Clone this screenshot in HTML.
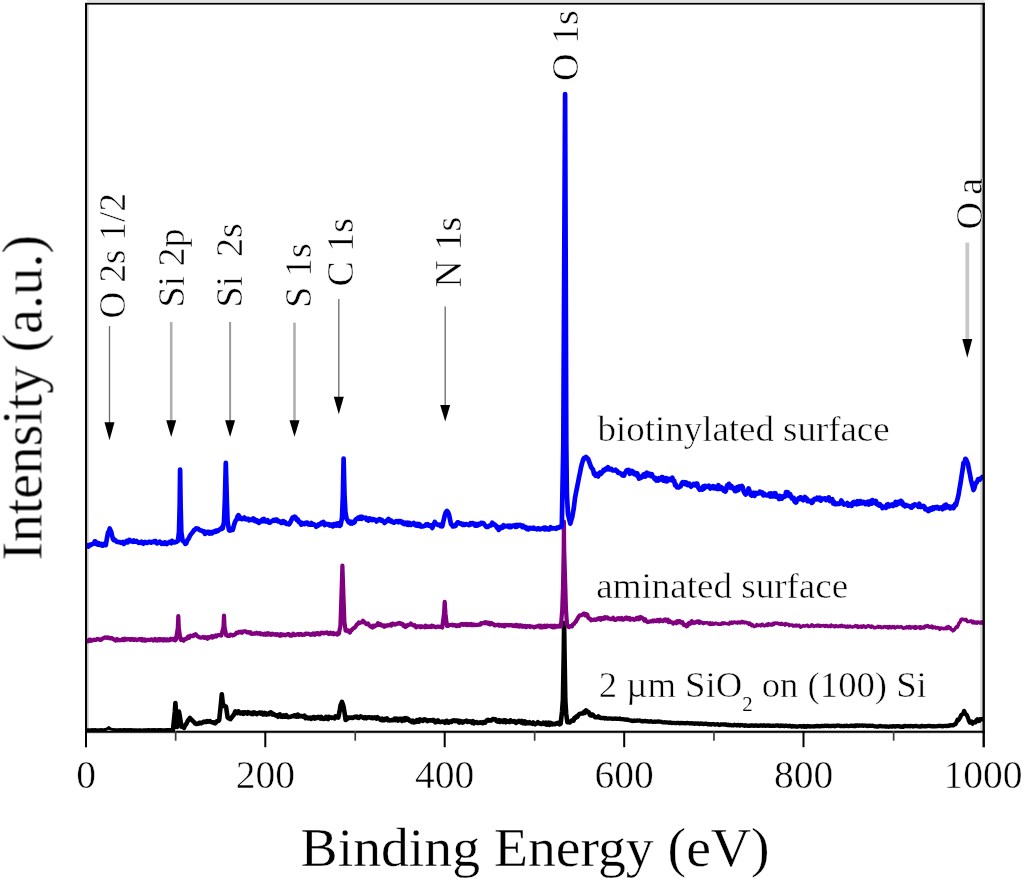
<!DOCTYPE html>
<html><head><meta charset="utf-8"><title>XPS survey spectra</title>
<style>html,body{margin:0;padding:0;background:#fff;}body{width:1024px;height:879px;overflow:hidden;}svg{display:block;}</style>
</head><body>
<svg width="1024" height="879" viewBox="0 0 1024 879">
<defs><filter id="soft" x="-2%" y="-2%" width="104%" height="104%"><feGaussianBlur stdDeviation="0.45"/></filter></defs>
<rect x="0" y="0" width="1024" height="879" fill="#ffffff"/>
<g filter="url(#soft)">
<rect x="87" y="0" width="897.6" height="3" fill="#e3e3e3"/>
<rect x="87" y="4.5" width="1.6" height="726" fill="#c4c4c4"/>
<rect x="980.2" y="4.5" width="2.3" height="726" fill="#d6d6d6"/>
<rect x="87" y="732.8" width="896" height="1.2" fill="#e2e2e2"/>
<clipPath id="plot"><rect x="86" y="4" width="897.6" height="729"/></clipPath>
<g fill="none" stroke-linejoin="round" stroke-linecap="round" clip-path="url(#plot)">
<path d="M86.5,729.8 L87.4,729.7 L88.3,729.8 L89.3,729.7 L90.2,729.8 L91.1,729.8 L92.0,729.6 L93.0,729.5 L93.9,729.9 L94.8,729.6 L95.8,729.6 L96.7,729.9 L97.6,729.7 L98.5,729.8 L99.5,729.7 L100.4,729.7 L101.3,729.5 L102.2,729.7 L103.2,729.8 L104.1,729.6 L105.0,729.7 L106.3,729.3 L107.6,728.6 L108.8,727.5 L110.0,728.8 L111.2,729.1 L112.5,729.4 L113.4,729.7 L114.3,729.6 L115.2,729.7 L116.1,729.8 L117.0,729.7 L118.0,729.8 L118.9,729.6 L119.8,729.7 L120.7,729.6 L121.6,729.8 L122.5,729.8 L123.4,729.5 L124.3,729.5 L125.2,729.5 L126.1,729.8 L127.0,729.6 L128.0,729.7 L128.9,729.6 L129.8,729.7 L130.7,729.6 L131.6,729.6 L132.5,729.7 L133.4,729.7 L134.3,729.8 L135.2,729.7 L136.1,729.9 L137.0,729.8 L138.0,729.9 L138.9,729.8 L139.8,729.6 L140.7,729.8 L141.6,729.9 L142.5,729.9 L143.4,729.7 L144.3,729.8 L145.3,729.6 L146.2,729.8 L147.1,729.7 L148.0,729.6 L149.0,729.5 L149.9,729.8 L150.8,729.9 L151.7,729.5 L152.7,729.8 L153.6,729.6 L154.5,729.5 L155.4,729.6 L156.4,729.8 L157.3,729.8 L158.2,729.5 L159.1,729.7 L160.1,729.5 L161.0,729.7 L161.9,729.6 L162.8,729.8 L163.8,729.8 L164.7,729.6 L165.6,729.8 L166.5,729.5 L167.5,729.4 L168.4,729.7 L169.3,729.4 L170.2,729.5 L171.2,729.6 L172.1,729.7 L173.0,729.6" stroke="#000000" stroke-width="3.0"/>
<path d="M173.0,729.6 L173.9,720.8 L174.8,712.0 L175.4,703.0 L176.0,712.0 L177.0,727.0 L178.2,715.0 L178.9,711.5 L179.8,716.0 L181.4,726.6 L182.7,726.7 L184.0,727.9 L185.0,725.4 L186.0,724.4 L187.0,722.5 L188.0,720.5 L189.0,719.3 L190.0,718.0 L191.0,719.2 L192.0,720.1 L193.0,721.1 L194.1,722.1 L195.2,723.5 L196.3,724.0 L197.2,723.7 L198.2,723.8 L199.2,722.9 L200.1,722.8 L201.1,723.3 L202.0,722.5 L203.0,722.4 L204.0,721.6 L205.0,721.9 L206.0,721.9 L207.0,721.1 L208.0,721.6 L209.0,721.5 L209.9,721.0 L210.8,722.0 L211.7,722.0 L212.6,722.5 L213.5,722.4 L214.4,723.1 L215.3,723.4 L216.3,721.8 L217.2,721.0 L218.2,721.0 L219.2,720.0 L220.1,711.5 L221.0,703.0 L221.8,694.3 L222.8,703.6 L224.4,706.2 L226.0,706.5 L227.6,717.4 L228.5,718.2 L229.4,718.6 L230.3,719.2 L231.6,717.6 L232.8,716.0 L234.1,714.3 L235.3,711.4 L236.3,711.8 L237.4,713.0 L238.4,711.3 L239.4,712.9 L240.5,713.5 L241.5,712.6 L242.5,712.4 L243.4,713.9 L244.4,712.4 L245.3,712.3 L246.3,712.9 L247.3,713.6 L248.2,712.1 L249.2,712.7 L250.2,712.7 L251.1,713.9 L252.1,712.9 L253.0,714.0 L254.0,712.3 L255.0,712.7 L255.9,713.6 L256.9,714.2 L257.8,713.2 L258.8,712.7 L259.8,712.5 L260.7,713.6 L261.7,712.8 L262.7,714.4 L263.6,714.5 L264.6,712.9 L265.5,713.2 L266.5,714.6 L267.5,714.0 L268.5,714.3 L269.5,713.0 L270.5,712.3 L271.5,712.6 L272.4,714.5 L273.4,713.8 L274.4,714.6 L275.3,715.4 L276.2,715.4 L277.1,715.4 L278.0,716.7 L278.9,714.7 L279.8,714.4 L280.8,716.7 L281.7,716.5 L282.6,716.8 L283.5,715.4 L284.4,716.7 L285.3,716.7 L286.3,715.1 L287.4,716.6 L288.4,717.1 L289.4,716.9 L290.5,716.7 L291.5,716.4 L292.4,716.3 L293.3,715.9 L294.2,715.3 L295.1,716.4 L296.0,715.5 L297.0,716.6 L297.9,714.6 L298.8,716.5 L299.7,715.8 L300.6,716.2 L301.5,716.0 L302.5,716.6 L303.5,716.4 L304.5,715.6 L305.5,718.1 L306.5,717.3 L307.4,717.5 L308.3,718.4 L309.2,718.0 L310.1,717.7 L311.0,718.9 L312.0,718.1 L312.9,717.3 L313.8,717.0 L314.7,718.5 L315.6,717.5 L316.5,718.2 L317.5,717.2 L318.4,716.8 L319.4,717.7 L320.3,718.5 L321.3,716.9 L322.2,718.5 L323.2,718.9 L324.2,718.7 L325.1,718.8 L326.1,716.8 L327.0,718.4 L328.0,719.0 L328.9,716.9 L329.9,717.4 L330.8,717.4 L331.7,717.9 L332.7,717.6 L333.6,717.7 L334.6,718.4 L335.5,716.4 L336.4,716.5 L337.4,716.6 L338.3,717.5 L339.5,711.8 L340.6,705.1 L342.0,701.9 L343.4,706.0 L344.5,712.4 L345.6,720.0 L346.5,719.5 L347.5,717.4 L348.4,718.3 L349.3,717.7 L350.2,717.5 L351.1,717.5 L352.1,718.0 L353.0,717.7 L353.9,717.2 L354.9,716.7 L355.8,717.1 L356.8,716.6 L357.7,717.6 L358.6,718.0 L359.6,717.2 L360.5,716.4 L361.5,716.7 L362.4,717.2 L363.3,717.8 L364.3,718.2 L365.2,717.2 L366.2,718.3 L367.1,717.8 L368.0,717.3 L369.0,717.2 L369.9,717.5 L370.9,718.0 L371.8,717.3 L372.8,718.1 L373.7,717.7 L374.7,717.3 L375.6,718.2 L376.6,718.7 L377.6,717.3 L378.5,718.3 L379.5,718.5 L380.5,719.8 L381.4,720.1 L382.4,718.8 L383.3,720.2 L384.3,720.1 L385.2,718.8 L386.2,719.4 L387.1,718.5 L388.0,720.3 L389.0,720.0 L389.9,720.5 L390.8,720.3 L391.8,720.1 L392.7,720.3 L393.6,719.9 L394.6,718.7 L395.5,720.0 L396.5,718.6 L397.4,718.9 L398.3,720.5 L399.3,718.7 L400.2,718.9 L401.1,718.9 L402.1,720.9 L403.0,719.2 L404.0,718.5 L405.0,720.3 L406.0,718.2 L407.0,719.7 L408.0,718.9 L409.0,720.0 L410.0,721.0 L411.0,720.7 L412.0,722.0 L413.0,720.7 L414.0,722.4 L415.0,721.5 L415.9,721.8 L416.9,720.1 L417.9,721.5 L418.9,721.7 L419.8,719.3 L420.8,719.8 L421.8,720.2 L422.8,720.9 L423.7,719.5 L424.7,719.4 L425.6,719.7 L426.6,720.7 L427.6,721.1 L428.5,720.3 L429.5,720.3 L430.5,720.4 L431.4,720.4 L432.4,720.6 L433.3,719.9 L434.3,721.0 L435.3,722.3 L436.2,720.9 L437.2,721.8 L438.1,720.4 L439.1,721.8 L440.1,722.1 L441.0,721.9 L442.0,721.6 L443.0,721.6 L443.9,722.0 L444.9,722.8 L445.8,721.0 L446.8,720.9 L447.8,722.4 L448.7,722.7 L449.7,721.6 L450.7,721.4 L451.6,721.9 L452.6,720.5 L453.6,720.6 L454.5,720.3 L455.5,721.2 L456.4,720.6 L457.3,720.5 L458.2,721.7 L459.1,722.5 L460.0,720.9 L460.9,722.1 L461.8,721.4 L462.7,722.6 L463.6,722.0 L464.5,721.3 L465.4,721.2 L466.4,720.7 L467.3,721.9 L468.3,721.7 L469.2,721.2 L470.1,721.7 L471.1,721.6 L472.0,722.7 L473.0,721.2 L473.9,723.3 L474.8,722.1 L475.8,722.4 L476.7,722.1 L477.7,723.0 L478.6,723.0 L479.5,722.4 L480.5,722.2 L481.4,722.8 L482.4,723.2 L483.3,722.1 L484.2,722.5 L485.2,722.7 L486.1,721.1 L487.1,720.2 L488.0,719.8 L488.9,720.7 L489.9,720.2 L490.8,720.5 L491.7,720.4 L492.7,719.1 L493.6,719.1 L494.5,719.4 L495.5,719.4 L496.4,720.9 L497.3,721.4 L498.3,721.7 L499.2,720.2 L500.1,721.9 L501.1,720.7 L502.0,721.1 L502.9,721.9 L503.9,720.3 L504.8,720.4 L505.8,722.3 L506.7,720.9 L507.6,721.1 L508.6,721.7 L509.5,722.0 L510.5,720.3 L511.4,721.2 L512.3,721.5 L513.3,721.6 L514.2,721.0 L515.2,721.9 L516.1,722.9 L517.0,721.5 L518.0,721.9 L518.9,720.9 L519.9,721.3 L520.8,722.3 L521.8,721.0 L522.7,723.1 L523.7,723.2 L524.6,721.3 L525.6,723.5 L526.6,722.1 L527.5,723.2 L528.5,723.3 L529.5,722.2 L530.4,723.3 L531.4,723.3 L532.3,723.8 L533.3,722.5 L534.2,723.8 L535.1,724.3 L536.0,723.6 L536.9,723.3 L537.8,722.3 L538.7,723.3 L539.6,723.0 L540.5,724.0 L541.4,723.9 L542.3,723.7 L543.2,722.7 L544.1,723.9 L545.0,723.9 L545.9,722.8 L546.8,724.7 L547.7,724.1 L548.6,722.8 L549.5,724.9 L550.4,722.9 L551.4,723.4 L552.3,724.4 L553.2,724.0 L554.1,723.9 L555.0,724.2 L556.0,723.7 L556.9,723.3 L557.8,723.0 L558.8,722.7 L559.7,724.3 L560.6,723.8 L562.0,712.0 L562.9,700.0 L563.8,650.0 L564.1,623.0 L564.5,650.0 L565.3,700.0 L566.2,714.0 L567.4,722.1 L568.5,721.7 L569.7,722.4 L570.8,721.5 L571.7,720.5 L572.6,720.1 L573.6,720.5 L574.5,717.7 L575.5,717.9 L576.5,716.4 L577.5,716.8 L578.5,714.9 L579.5,714.0 L581.0,713.6 L582.0,713.4 L583.0,713.5 L584.0,711.9 L585.0,712.7 L586.0,710.3 L587.0,711.5 L588.0,711.8 L589.0,712.6 L590.0,715.0 L591.0,715.6 L591.9,714.5 L592.8,714.8 L593.7,715.6 L594.6,716.7 L595.5,717.2 L596.5,717.3 L597.4,717.2 L598.3,716.4 L599.2,717.3 L600.1,717.6" stroke="#000000" stroke-width="4.6"/>
<path d="M600.1,717.6 L601.0,718.1 L601.9,718.2 L602.9,717.9 L603.8,718.0 L604.8,718.5 L605.7,717.9 L606.6,718.6 L607.6,718.7 L608.5,718.7 L609.5,718.3 L610.4,718.5 L611.3,718.6 L612.3,718.6 L613.2,718.9 L614.2,718.7 L615.1,718.5 L616.0,718.9 L617.0,718.7 L617.9,718.8 L618.9,718.9 L619.8,718.4 L620.8,719.2 L621.7,719.2 L622.7,719.2 L623.6,719.4 L624.6,719.5 L625.6,719.4 L626.5,719.8 L627.5,719.5 L628.5,720.0 L629.4,720.3 L630.4,720.3 L631.3,720.5 L632.3,721.0 L633.2,720.9 L634.2,720.4 L635.1,720.9 L636.0,720.8 L637.0,720.4 L637.9,720.7 L638.8,720.6 L639.8,720.5 L640.7,720.9 L641.6,721.3 L642.6,720.8 L643.5,721.3 L644.5,721.2 L645.4,720.8 L646.3,721.4 L647.3,721.2 L648.2,721.5 L649.1,721.4 L650.1,721.5 L651.0,721.2 L651.9,721.6 L652.9,721.8 L653.8,721.8 L654.7,721.5 L655.6,721.8 L656.6,721.7 L657.5,721.5 L658.4,721.5 L659.3,721.6 L660.3,721.7 L661.2,721.8 L662.1,722.1 L663.0,722.3 L664.0,722.3 L664.9,722.2 L665.8,722.5 L666.7,722.3 L667.7,722.5 L668.6,722.8 L669.5,722.6 L670.4,722.4 L671.4,723.1 L672.3,723.0 L673.2,722.8 L674.1,722.9 L675.1,723.1 L676.0,723.2 L676.9,722.9 L677.8,722.8 L678.8,722.9 L679.7,723.4 L680.6,722.9 L681.5,723.2 L682.5,723.0 L683.4,723.1 L684.3,723.1 L685.2,723.3 L686.2,723.1 L687.1,723.0 L688.0,723.1 L688.9,723.2 L689.8,723.5 L690.8,723.2 L691.7,723.2 L692.6,723.5 L693.5,723.5 L694.5,723.8 L695.4,723.3 L696.3,723.6 L697.2,723.6 L698.2,723.4 L699.1,724.1 L700.0,723.6 L700.9,723.5 L701.9,723.9 L702.8,723.6 L703.7,724.0 L704.6,723.9 L705.6,723.7 L706.5,723.7 L707.4,724.3 L708.3,724.0 L709.3,724.4 L710.2,724.2 L711.1,724.6 L712.0,724.1 L713.0,724.1 L713.9,724.2 L714.8,724.6 L715.7,724.5 L716.7,724.3 L717.6,724.2 L718.5,724.7 L719.4,725.0 L720.4,724.7 L721.3,724.3 L722.2,724.3 L723.1,724.4 L724.1,724.5 L725.0,724.4 L725.9,724.5 L726.9,725.0 L727.8,725.2 L728.7,724.7 L729.6,725.3 L730.6,725.0 L731.5,725.3 L732.4,725.4 L733.3,725.4 L734.3,724.7 L735.2,725.0 L736.1,725.2 L737.0,725.5 L738.0,724.9 L738.9,725.1 L739.8,725.6 L740.7,725.0 L741.7,725.2 L742.6,725.2 L743.5,725.5 L744.4,725.8 L745.4,725.2 L746.3,725.7 L747.2,725.7 L748.1,725.8 L749.1,725.6 L750.0,725.9 L750.9,725.5 L751.9,725.5 L752.8,725.4 L753.7,725.8 L754.6,725.6 L755.6,725.4 L756.5,725.3 L757.4,725.8 L758.3,725.7 L759.3,725.8 L760.2,725.5 L761.1,725.6 L762.0,725.3 L763.0,725.8 L763.9,725.2 L764.8,725.6 L765.7,725.8 L766.7,725.7 L767.6,725.3 L768.5,725.4 L769.4,725.9 L770.4,725.7 L771.3,725.9 L772.2,725.9 L773.1,725.6 L774.1,725.9 L775.0,725.8 L775.9,725.5 L776.9,725.6 L777.8,725.4 L778.7,725.7 L779.6,726.1 L780.6,725.5 L781.5,725.9 L782.4,725.6 L783.3,725.6 L784.3,726.1 L785.2,725.8 L786.1,725.6 L787.0,725.8 L788.0,726.2 L788.9,726.2 L789.8,725.7 L790.7,726.0 L791.7,726.6 L792.6,726.0 L793.5,726.3 L794.4,726.2 L795.4,726.6 L796.3,726.5 L797.2,726.6 L798.1,726.5 L799.1,726.2 L800.0,726.2 L800.9,726.1 L801.8,726.7 L802.8,726.1 L803.7,726.0 L804.6,726.8 L805.5,726.1 L806.5,726.7 L807.4,726.0 L808.3,726.3 L809.2,726.1 L810.2,726.6 L811.1,726.4 L812.0,726.4 L812.9,726.4 L813.8,726.5 L814.8,726.1 L815.7,726.3 L816.6,726.1 L817.5,725.8 L818.5,726.4 L819.4,726.2 L820.3,726.3 L821.2,725.8 L822.2,726.1 L823.1,726.0 L824.0,726.2 L824.9,725.7 L825.8,725.9 L826.7,726.0 L827.7,725.6 L828.6,726.0 L829.5,726.1 L830.4,725.9 L831.3,726.0 L832.2,726.0 L833.1,725.7 L834.1,725.8 L835.0,726.3 L835.9,725.7 L836.8,725.8 L837.7,725.5 L838.6,725.6 L839.5,725.6 L840.5,726.2 L841.4,726.0 L842.3,726.1 L843.2,726.2 L844.1,725.9 L845.0,726.1 L846.0,725.8 L846.9,725.7 L847.8,726.1 L848.7,726.1 L849.6,726.1 L850.5,725.7 L851.4,725.9 L852.4,725.6 L853.3,726.1 L854.2,726.0 L855.1,725.5 L856.0,726.0 L856.9,725.4 L857.8,725.3 L858.8,725.8 L859.7,725.5 L860.6,725.6 L861.5,725.7 L862.4,725.3 L863.4,725.9 L864.3,725.5 L865.2,725.7 L866.1,725.6 L867.1,726.0 L868.0,726.0 L868.9,725.7 L869.8,725.6 L870.8,725.8 L871.7,725.9 L872.6,725.7 L873.5,725.8 L874.5,726.3 L875.4,726.3 L876.3,726.5 L877.2,726.6 L878.2,726.5 L879.1,726.1 L880.0,726.0 L880.9,726.1 L881.9,726.3 L882.8,726.4 L883.7,726.4 L884.6,726.3 L885.6,726.7 L886.5,726.3 L887.4,726.5 L888.4,726.8 L889.3,726.7 L890.2,726.3 L891.1,726.3 L892.1,726.7 L893.0,726.1 L893.9,726.1 L894.8,726.5 L895.8,726.5 L896.7,726.2 L897.6,726.1 L898.5,726.2 L899.5,726.6 L900.4,726.4 L901.3,726.8 L902.2,726.6 L903.2,726.8 L904.1,726.0 L905.0,726.1 L905.9,726.0 L906.9,726.3 L907.8,726.2 L908.7,726.0 L909.6,726.4 L910.6,726.0 L911.5,726.1 L912.4,726.1 L913.3,726.5 L914.2,726.2 L915.1,726.1 L916.0,725.9 L916.9,726.2 L917.9,726.3 L918.8,726.4 L919.7,726.6 L920.6,726.5 L921.5,726.0 L922.4,725.9 L923.3,726.4 L924.2,726.4 L925.1,726.2 L926.0,726.4 L926.9,726.2 L927.8,726.0 L928.8,725.9 L929.7,725.8 L930.6,726.2 L931.5,726.4 L932.4,726.4 L933.3,726.1 L934.2,726.2 L935.1,726.4 L936.0,726.3 L936.9,726.2 L937.8,726.0 L938.7,726.1 L939.6,725.8 L940.6,725.8 L941.5,726.2 L942.4,726.4 L943.3,726.1 L944.2,725.9 L945.1,725.9 L946.0,726.0 L946.9,726.1 L947.9,725.7 L948.8,726.0 L949.8,725.2 L950.7,725.2 L951.6,725.3 L952.6,725.1 L953.5,725.3 L954.5,724.3 L955.5,724.1 L956.5,722.3 L957.5,719.8 L958.5,720.2 L959.5,718.6 L960.4,716.9 L961.3,714.8 L962.3,714.3 L963.2,713.9 L964.1,710.9 L965.4,713.9 L966.6,714.7 L967.7,717.1 L968.7,720.2 L969.8,722.5 L970.7,722.1 L971.6,721.4 L972.6,723.7 L973.5,722.3 L974.5,722.0 L975.4,722.4 L976.3,720.3 L977.3,719.4 L978.3,721.0 L979.3,720.9 L980.2,719.2 L981.2,719.3 L982.2,719.0 L983.2,719.4" stroke="#000000" stroke-width="4.3"/>
<path d="M86.9,640.6 L87.8,641.3 L88.6,641.2 L89.5,639.5 L90.3,639.5 L91.2,640.8 L92.0,640.5 L92.8,640.3 L93.7,639.6 L94.5,640.0 L95.4,639.9 L96.2,639.8 L97.1,639.0 L98.0,639.4 L98.8,639.2 L99.6,639.6 L100.5,640.0 L101.3,639.7 L102.1,638.8 L103.0,638.5 L103.8,638.0 L104.6,637.5 L105.5,637.3 L106.3,637.9 L107.1,637.5 L108.0,637.4 L108.8,638.2 L109.6,637.9 L110.5,638.4 L111.3,638.2 L112.1,638.2 L113.0,639.1 L113.8,639.1 L114.6,639.8 L115.4,640.6 L116.2,640.0 L117.0,639.1 L117.8,640.3 L118.7,640.1 L119.5,639.9 L120.3,640.2 L121.1,639.9 L121.9,639.9 L122.7,639.1 L123.5,640.2 L124.3,640.1 L125.1,638.6 L126.0,639.7 L126.8,639.5 L127.6,639.1 L128.4,639.1 L129.2,639.0 L130.0,639.8 L130.8,639.1 L131.7,639.7 L132.5,638.9 L133.3,639.9 L134.2,640.0 L135.0,639.2 L135.8,639.5 L136.7,640.2 L137.5,639.9 L138.3,639.5 L139.2,639.1 L140.0,639.3 L140.8,640.1 L141.7,639.1 L142.5,640.5 L143.3,639.4 L144.2,640.5 L145.0,639.5 L145.8,640.6 L146.7,640.2 L147.5,639.8 L148.3,639.8 L149.2,640.1 L150.0,640.0 L150.8,639.5 L151.7,639.3 L152.5,639.8 L153.3,640.6 L154.2,640.0 L155.0,639.0 L155.8,640.4 L156.7,640.2 L157.5,640.5 L158.3,639.2 L159.2,640.2 L160.0,639.0 L160.8,640.1 L161.7,639.4 L162.5,639.3 L163.3,640.5 L164.2,639.1 L165.0,639.8 L165.8,640.4 L166.7,639.3 L167.5,639.3 L168.3,640.4 L169.2,639.6 L170.1,640.1 L170.9,638.8 L171.8,639.4 L172.6,639.0 L173.4,639.8 L174.3,638.7 L175.2,640.3 L176.0,639.4 L176.9,633.7 L177.8,628.0 L178.3,616.2 L178.8,628.0 L180.3,638.5 L181.1,640.0 L181.9,638.9 L182.8,639.5 L183.6,640.7 L184.4,639.7 L185.4,638.8 L186.5,638.8 L187.5,637.3 L188.3,636.4 L189.1,637.9 L189.9,636.1 L190.7,635.7 L191.6,636.0 L192.4,636.2 L193.2,636.2 L194.0,634.8 L194.8,635.0 L195.6,634.2 L196.5,635.3 L197.4,636.2 L198.2,636.6 L199.1,637.2 L200.0,637.4 L200.8,637.7 L201.7,637.5 L202.5,637.3 L203.3,636.9 L204.2,637.9 L205.0,637.4 L205.8,637.1 L206.7,637.9 L207.5,638.8 L208.3,637.2 L209.1,637.8 L209.9,637.2 L210.7,637.2 L211.5,636.3 L212.3,637.6 L213.1,636.2 L213.9,636.8 L214.8,636.3 L215.6,635.5 L216.4,636.4 L217.2,635.5 L218.0,635.2 L218.9,635.1 L219.7,635.2 L220.5,635.0 L221.3,635.6 L222.4,631.3 L223.5,627.0 L224.0,615.5 L224.5,627.0 L225.3,631.0 L226.2,635.2 L227.0,635.1 L227.8,635.9 L228.7,635.9 L229.5,636.0 L230.3,634.7 L231.2,635.1 L232.0,634.8 L232.8,635.5 L233.7,635.0 L234.7,634.7 L235.6,634.0 L236.5,632.7 L237.3,632.9 L238.1,632.9 L238.9,631.9 L239.7,631.8 L240.5,632.4 L241.3,631.7 L242.1,632.7 L242.9,631.8 L243.7,631.4 L244.5,631.4 L245.3,631.4 L246.2,631.6 L247.0,632.3 L247.9,632.3 L248.8,632.2 L249.7,633.0 L250.5,632.3 L251.4,633.8 L252.3,634.0 L253.1,633.8 L254.0,633.4 L254.8,633.6 L255.7,633.7 L256.5,632.8 L257.3,633.5 L258.2,633.7 L259.0,633.1 L259.8,633.0 L260.7,634.3 L261.5,633.6 L262.3,633.9 L263.2,634.6 L264.0,634.1 L264.8,633.6 L265.7,634.8 L266.5,633.8 L267.3,633.2 L268.2,634.5 L269.0,633.5 L269.8,633.9 L270.7,634.9 L271.5,634.7 L272.3,633.6 L273.2,634.4 L274.0,634.4 L274.8,634.6 L275.7,634.2 L276.5,635.0 L277.3,634.1 L278.2,634.5 L279.0,634.8 L279.8,635.8 L280.7,634.2 L281.5,635.4 L282.3,634.4 L283.2,635.1 L284.0,634.7 L284.8,634.8 L285.7,635.3 L286.5,634.7 L287.3,634.2 L288.2,634.2 L289.0,634.1 L289.8,635.5 L290.7,635.1 L291.5,635.6 L292.3,635.1 L293.2,633.8 L294.0,634.9 L294.8,635.1 L295.7,634.9 L296.5,634.5 L297.3,634.2 L298.2,634.3 L299.0,634.9 L299.8,633.9 L300.7,634.3 L301.5,634.1 L302.3,634.9 L303.2,634.6 L304.0,634.8 L304.8,634.6 L305.7,633.6 L306.5,633.5 L307.3,634.0 L308.2,633.6 L309.0,633.9 L309.8,634.3 L310.7,634.8 L311.5,634.2 L312.3,634.6 L313.2,633.3 L314.0,633.7 L314.8,634.9 L315.7,633.4 L316.5,633.9 L317.3,633.1 L318.1,633.0 L318.9,634.4 L319.7,634.4 L320.5,633.7 L321.3,632.7 L322.1,632.9 L322.9,632.6 L323.7,633.3 L324.5,633.2 L325.3,632.7 L326.2,632.9 L327.1,632.3 L328.0,633.2 L328.8,634.0 L329.7,633.8 L330.6,632.7 L331.5,633.5 L332.3,633.9 L333.1,633.1 L333.9,634.3 L334.7,633.6 L335.6,634.0 L336.4,633.5 L337.2,634.6 L338.0,634.3 L338.8,633.8 L340.4,626.0 L341.3,600.0 L342.4,565.5 L343.6,600.0 L344.4,622.0 L345.6,630.6 L346.5,630.1 L347.3,631.0 L348.2,630.5 L349.0,631.8 L349.9,632.6 L350.8,630.4 L351.7,630.2 L352.5,629.2 L353.4,628.2 L354.3,627.9 L355.2,627.2 L356.1,625.7 L357.1,624.2 L358.0,623.9 L358.8,622.5 L359.7,622.9 L360.5,622.5 L361.3,622.4 L362.2,622.2 L363.0,620.8 L363.8,622.0 L364.7,622.2 L365.5,623.2 L366.3,624.2 L367.2,624.1 L368.0,623.5 L368.9,624.8 L369.8,625.8 L370.6,626.6 L371.5,626.7 L372.4,627.5 L373.2,625.6 L374.0,626.8 L374.8,626.0 L375.6,625.3 L376.4,625.4 L377.2,624.9 L378.0,623.1 L378.9,624.7 L379.8,625.0 L380.7,624.3 L381.6,625.7 L382.5,625.7 L383.4,625.4 L384.3,626.8 L385.2,625.5 L386.0,626.1 L386.9,625.6 L387.8,625.1 L388.6,625.5 L389.5,625.1 L390.4,624.4 L391.3,625.6 L392.1,623.8 L393.0,623.5 L393.9,624.2 L394.8,624.6 L395.7,624.1 L396.6,624.1 L397.5,623.4 L398.4,623.6 L399.3,622.8 L400.2,623.2 L401.1,624.1 L402.0,623.7 L402.8,624.3 L403.7,626.0 L404.6,625.4 L405.5,627.0 L406.4,626.5 L407.3,625.2 L408.1,625.2 L409.0,624.9 L409.9,624.5 L410.7,623.5 L411.5,624.0 L412.3,624.7 L413.1,625.3 L413.9,625.4 L414.7,625.2 L415.5,626.6 L416.3,627.3 L417.2,626.3 L418.0,626.6 L418.8,626.3 L419.7,626.4 L420.5,627.2 L421.3,626.2 L422.2,626.8 L423.0,626.5 L423.8,626.6 L424.7,627.2 L425.5,625.7 L426.3,627.1 L427.1,626.1 L427.9,626.7 L428.7,627.0 L429.5,626.7 L430.3,626.2 L431.1,627.0 L431.9,625.6 L432.7,626.6 L433.5,626.1 L434.3,626.4 L435.2,627.1 L436.1,627.1 L436.9,626.9 L437.8,626.5 L438.7,626.5 L439.6,627.0 L440.4,626.8 L441.3,627.0 L442.2,627.5 L443.1,620.8 L444.0,614.0 L444.7,601.8 L445.5,614.0 L446.9,625.8 L447.8,624.4 L448.6,625.7 L449.5,625.0 L450.3,625.0 L451.2,625.0 L452.1,624.6 L452.9,625.3 L453.8,624.9 L454.6,625.4 L455.5,625.2 L456.3,626.2 L457.1,626.1 L458.0,625.2 L458.8,625.4 L459.6,625.8 L460.4,624.6 L461.2,624.1 L462.0,624.3 L462.9,624.1 L463.7,624.8 L464.5,624.2 L465.3,624.1 L466.2,624.9 L467.0,623.9 L467.8,625.0 L468.7,624.6 L469.5,624.2 L470.3,625.0 L471.2,624.1 L472.0,625.1 L472.8,625.2 L473.7,624.4 L474.5,624.7 L475.3,625.2 L476.2,624.8 L477.0,624.9 L477.8,624.9 L478.6,624.8 L479.4,624.3 L480.2,624.6 L481.0,623.2 L481.8,623.6 L482.6,623.5 L483.4,622.8 L484.2,622.7 L485.0,622.1 L485.8,623.3 L486.6,622.4 L487.5,622.9 L488.3,623.8 L489.1,622.8 L490.0,624.4 L490.8,623.1 L491.6,623.1 L492.5,623.9 L493.3,624.1 L494.2,625.3 L495.0,625.3 L495.9,625.2 L496.8,624.8 L497.6,625.1 L498.5,624.6 L499.4,625.8 L500.3,625.2 L501.1,625.1 L502.0,625.8 L502.8,625.0 L503.7,625.3 L504.5,626.4 L505.3,624.9 L506.2,625.0 L507.0,625.1 L507.8,625.2 L508.7,625.5 L509.5,625.2 L510.3,625.3 L511.2,625.1 L512.0,625.1 L512.8,625.8 L513.7,625.3 L514.5,625.4 L515.3,626.1 L516.2,624.9 L517.0,625.1 L517.8,626.4 L518.7,625.7 L519.5,626.4 L520.3,625.3 L521.2,626.0 L522.0,626.6 L522.8,625.8 L523.7,626.6 L524.5,626.4 L525.3,626.0 L526.2,627.1 L527.0,626.1 L527.8,626.3 L528.7,626.5 L529.5,626.0 L530.3,627.0 L531.2,626.5 L532.0,626.5 L532.8,626.5 L533.7,627.3 L534.5,627.3 L535.3,627.0 L536.2,626.4 L537.0,626.3 L537.8,626.5 L538.7,625.7 L539.5,625.8 L540.3,627.4 L541.2,625.8 L542.0,627.3 L542.8,626.8 L543.7,627.2 L544.5,625.7 L545.3,626.2 L546.2,627.0 L547.0,625.6 L547.8,625.8 L548.7,626.2 L549.5,625.9 L550.3,625.9 L551.2,626.8 L552.0,625.8 L552.8,627.3 L553.6,626.8 L554.4,625.7 L555.2,627.2 L556.0,626.0 L556.9,626.5 L557.7,626.6 L558.5,625.8 L559.3,626.5 L560.1,625.7 L560.9,626.5 L562.2,610.0 L563.0,587.0 L563.7,550.0 L563.9,521.5 L564.2,550.0 L565.3,587.0 L566.0,610.0 L567.0,624.5 L568.0,626.5 L569.0,627.1 L570.0,626.2 L571.0,626.2 L572.0,626.3 L573.0,624.2 L573.9,624.0 L574.8,622.6 L575.8,621.8 L576.6,620.2 L577.4,619.0 L578.2,617.3 L579.0,616.3 L579.8,615.3 L580.7,615.3 L581.6,615.2 L582.6,614.7 L583.5,613.6 L584.5,613.7 L585.4,615.4 L586.3,614.2 L587.3,614.7 L588.2,617.6 L589.1,618.4 L590.1,618.7 L591.0,620.3 L591.9,619.9 L592.8,619.9 L593.7,619.7 L594.6,619.3 L595.5,620.0 L596.4,619.8 L597.3,618.9 L598.1,618.7 L599.0,618.2 L599.8,619.3 L600.6,619.7 L601.5,617.9 L602.3,618.9 L603.1,618.9 L604.0,618.7 L604.8,617.1 L605.6,618.3 L606.5,617.4 L607.3,617.4 L608.1,618.4 L609.0,618.7 L609.8,618.7 L610.6,619.1 L611.5,619.1 L612.3,618.7 L613.1,617.8 L614.0,619.6 L614.8,619.9 L615.6,620.0 L616.5,619.5 L617.3,618.3 L618.2,618.5 L619.0,618.2 L619.9,619.3 L620.8,619.0 L621.6,618.0 L622.5,619.7 L623.4,619.6 L624.3,619.3 L625.1,618.1 L626.0,617.6 L626.9,617.5 L627.8,619.1 L628.6,619.0 L629.5,618.1 L630.4,619.7 L631.3,619.0 L632.2,618.8 L633.0,618.9 L633.9,619.8 L634.8,619.3 L635.7,619.5 L636.6,618.0 L637.5,619.1 L638.3,617.8 L639.2,619.0 L640.1,617.1 L641.0,617.1 L641.8,618.1 L642.7,618.2 L643.5,619.0 L644.3,620.5 L645.2,619.2 L646.0,621.1 L646.8,621.4 L647.7,622.1 L648.5,621.8 L649.3,621.7 L650.2,621.3 L651.0,621.5 L651.8,620.9 L652.7,620.6 L653.5,621.2 L654.3,620.4 L655.2,621.0 L656.0,621.1 L656.8,620.4 L657.7,619.9 L658.5,620.9 L659.3,621.4 L660.2,619.8 L661.0,620.7 L661.8,620.7 L662.7,621.2 L663.5,620.6 L664.3,619.7 L665.2,619.4 L666.0,620.8 L666.9,620.0 L667.8,619.7 L668.7,622.2 L669.6,621.0 L670.5,621.8 L671.4,622.2 L672.3,622.5 L673.1,623.5 L674.0,622.5 L674.8,622.6 L675.6,622.4 L676.5,623.2 L677.3,621.1 L678.1,622.4 L679.0,621.1 L679.8,621.1 L680.6,622.6 L681.5,622.5 L682.4,622.2 L683.2,624.0 L684.0,625.2 L684.9,625.0 L685.8,625.1 L686.6,626.3 L687.5,625.9 L688.4,623.3 L689.2,622.9 L690.1,623.8 L691.0,622.9 L691.8,621.2 L692.6,622.5 L693.5,623.0 L694.3,622.3 L695.1,622.7 L695.9,622.3 L696.7,621.6 L697.5,621.6 L698.4,621.3 L699.2,622.8 L700.0,621.8" stroke="#800080" stroke-width="4.2"/>
<path d="M700.0,621.8 L700.8,622.8 L701.7,622.5 L702.5,622.6 L703.3,623.7 L704.2,622.7 L705.0,623.0 L705.8,622.9 L706.7,622.7 L707.5,622.8 L708.3,623.4 L709.2,624.1 L710.0,622.8 L710.8,624.5 L711.7,624.0 L712.5,623.0 L713.3,624.2 L714.2,623.6 L715.0,623.8 L715.8,623.0 L716.7,623.8 L717.5,623.8 L718.3,624.3 L719.2,624.0 L720.0,624.2 L720.8,624.2 L721.7,623.3 L722.5,622.9 L723.3,623.8 L724.2,623.1 L725.0,623.1 L725.8,623.4 L726.7,623.7 L727.5,623.7 L728.3,623.7 L729.2,624.1 L730.0,622.4 L730.8,623.2 L731.7,622.2 L732.5,623.2 L733.3,622.7 L734.2,622.0 L735.0,622.2 L735.8,622.8 L736.7,622.3 L737.5,623.1 L738.4,622.0 L739.3,621.9 L740.1,623.0 L741.0,622.3 L741.9,621.4 L742.8,622.6 L743.7,621.8 L744.5,622.8 L745.4,622.2 L746.3,622.5 L747.2,623.2 L748.1,623.0 L749.0,624.4 L749.8,623.1 L750.7,624.2 L751.6,625.7 L752.5,624.7 L753.3,625.9 L754.2,626.5 L755.0,625.9 L755.8,626.1 L756.7,624.6 L757.5,625.4 L758.3,625.5 L759.2,625.2 L760.0,625.1 L760.8,625.8 L761.7,624.5 L762.5,624.3 L763.3,625.3 L764.2,625.9 L765.0,625.6 L765.8,625.2 L766.7,624.4 L767.5,625.5 L768.3,623.7 L769.2,624.0 L770.0,624.9 L770.8,625.0 L771.7,624.0 L772.5,624.9 L773.3,623.3 L774.2,624.1 L775.0,623.0 L775.8,623.3 L776.7,623.3 L777.5,623.0 L778.3,623.8 L779.2,624.0 L780.0,623.6 L780.8,624.4 L781.7,623.3 L782.5,624.2 L783.3,624.3 L784.2,624.1 L785.0,625.1 L785.8,623.6 L786.7,624.2 L787.5,624.3 L788.3,624.3 L789.2,625.6 L790.0,624.9 L790.8,624.9 L791.7,624.9 L792.5,625.0 L793.3,626.1 L794.2,626.0 L795.0,625.8 L795.8,625.0 L796.7,626.0 L797.5,625.2 L798.3,625.8 L799.2,625.3 L800.0,626.7 L800.8,627.2 L801.7,626.5 L802.5,626.3 L803.3,625.6 L804.2,626.0 L805.0,626.0 L805.8,625.8 L806.7,625.5 L807.5,625.3 L808.3,626.3 L809.2,626.6 L810.0,626.4 L810.8,625.9 L811.7,624.7 L812.5,625.2 L813.3,626.2 L814.1,626.5 L815.0,625.7 L815.8,625.7 L816.6,626.0 L817.4,625.1 L818.2,626.0 L819.1,625.3 L819.9,626.3 L820.7,625.5 L821.5,625.9 L822.4,625.7 L823.2,625.7 L824.0,625.5 L824.8,626.5 L825.6,626.1 L826.4,625.5 L827.2,625.7 L828.0,626.5 L828.8,626.2 L829.6,626.0 L830.5,626.7 L831.3,625.1 L832.1,626.0 L832.9,626.1 L833.7,625.8 L834.5,626.8 L835.3,626.8 L836.1,625.7 L836.9,626.2 L837.7,626.5 L838.5,626.4 L839.3,625.8 L840.1,626.6 L840.9,625.8 L841.7,625.4 L842.5,626.4 L843.4,626.4 L844.2,626.0 L845.0,626.2 L845.8,627.1 L846.6,626.8 L847.4,626.1 L848.2,627.1 L849.0,626.4 L849.8,626.1 L850.6,626.6 L851.4,626.9 L852.2,627.1 L853.0,626.7 L853.8,626.7 L854.6,626.2 L855.5,625.6 L856.3,626.4 L857.1,625.8 L857.9,627.4 L858.7,626.3 L859.5,626.8 L860.3,627.0 L861.1,626.0 L861.9,627.2 L862.7,626.3 L863.5,625.9 L864.3,626.9 L865.1,626.5 L865.9,627.5 L866.7,626.6 L867.5,626.0 L868.4,625.8 L869.2,625.9 L870.0,626.8 L870.8,627.2 L871.6,626.0 L872.4,626.5 L873.2,626.8 L874.0,627.7 L874.8,627.8 L875.6,627.6 L876.4,627.2 L877.2,627.1 L878.0,626.4 L878.8,627.2 L879.6,626.4 L880.5,626.6 L881.3,627.6 L882.1,627.2 L882.9,627.5 L883.7,627.0 L884.5,626.6 L885.3,627.1 L886.1,627.2 L886.9,626.6 L887.7,627.8 L888.5,628.0 L889.3,626.5 L890.1,626.7 L890.9,627.8 L891.7,627.6 L892.5,626.7 L893.4,627.4 L894.2,626.7 L895.0,627.9 L895.8,627.4 L896.6,627.3 L897.4,626.6 L898.2,627.1 L899.0,627.2 L899.9,627.1 L900.7,626.7 L901.6,626.8 L902.5,627.8 L903.3,628.2 L904.2,628.1 L905.0,627.6 L905.9,628.0 L906.8,626.8 L907.6,626.9 L908.5,627.9 L909.3,626.6 L910.2,626.7 L911.0,628.0 L911.8,626.9 L912.7,626.9 L913.5,627.3 L914.3,628.1 L915.2,626.6 L916.0,628.2 L916.8,627.1 L917.7,627.6 L918.5,627.4 L919.3,626.8 L920.2,628.4 L921.0,626.9 L921.8,627.9 L922.7,628.0 L923.5,627.0 L924.3,627.8 L925.2,626.0 L926.0,626.0 L926.8,626.5 L927.7,625.6 L928.5,626.9 L929.3,626.5 L930.1,627.2 L930.9,626.4 L931.7,626.1 L932.5,627.9 L933.3,626.8 L934.1,627.4 L935.0,627.0 L935.8,628.1 L936.6,628.0 L937.4,627.7 L938.2,627.6 L939.0,628.3 L939.8,629.3 L940.7,628.0 L941.5,628.0 L942.4,628.6 L943.3,628.5 L944.1,628.7 L945.0,628.3 L945.9,628.6 L946.8,627.1 L947.6,628.4 L948.5,626.6 L949.4,627.3 L950.3,627.7 L951.1,629.5 L952.0,629.5 L952.9,630.8 L953.8,630.2 L954.7,629.4 L955.5,628.0 L956.4,626.8 L957.3,627.2 L958.2,625.3 L959.1,622.9 L960.1,622.1 L961.0,619.7 L961.8,619.1 L962.7,619.6 L963.5,619.2 L964.3,619.9 L965.2,620.1 L966.0,619.4 L966.8,620.9 L967.7,621.7 L968.5,621.6 L969.3,621.4 L970.2,621.2 L971.0,620.9 L971.8,622.1 L972.7,622.8 L973.5,621.4 L974.3,622.8 L975.2,623.1 L976.0,622.2 L976.8,623.1 L977.6,621.9 L978.4,622.1 L979.2,622.6 L980.0,623.2 L980.8,622.6 L981.6,621.8 L982.4,623.3 L983.2,622.5" stroke="#800080" stroke-width="3.5"/>
<path d="M86.3,546.3 L87.2,545.2 L88.1,546.6 L89.1,546.1 L90.0,544.7 L90.9,545.0 L91.9,544.2 L92.8,544.0 L93.8,543.6 L94.8,541.4 L95.6,541.6 L96.4,543.9 L97.2,543.4 L98.0,544.6 L98.8,543.3 L99.7,544.3 L100.5,545.1 L101.4,544.0 L102.3,545.7 L103.2,545.7 L104.0,543.8 L104.9,543.8 L105.8,545.0 L106.9,538.6 L108.1,532.3 L108.9,531.5 L109.7,528.5 L111.3,532.2 L112.2,536.1 L113.1,539.3 L113.9,540.2 L114.8,539.7 L115.6,540.6 L116.5,541.5 L117.3,542.0 L118.2,541.8 L119.0,542.2 L120.0,542.2 L120.9,542.8 L121.9,542.5 L122.8,541.9 L123.8,543.9 L124.7,542.8 L125.6,542.5 L126.6,541.0 L127.5,542.4 L128.4,541.6 L129.3,539.9 L130.2,540.4 L131.1,541.3 L132.0,541.3 L132.9,541.8 L133.8,540.6 L134.7,541.6 L135.6,541.4 L136.4,540.9 L137.3,541.8 L138.2,542.7 L139.0,542.9 L139.9,542.3 L140.8,542.8 L141.6,541.8 L142.5,542.5 L143.4,543.7 L144.2,542.6 L145.1,541.9 L146.0,542.7 L146.8,542.9 L147.7,542.7 L148.6,541.9 L149.4,541.9 L150.3,541.9 L151.2,542.6 L152.0,542.0 L152.9,541.8 L153.8,542.1 L154.6,541.0 L155.5,541.1 L156.4,542.7 L157.2,543.4 L158.1,542.5 L159.0,542.1 L159.8,541.7 L160.7,542.6 L161.6,543.8 L162.4,543.4 L163.3,542.9 L164.2,543.8 L165.0,542.4 L165.9,543.1 L166.8,544.0 L167.7,542.9 L168.5,542.5 L169.4,541.9 L170.3,542.4 L171.2,543.2 L172.0,540.8 L172.9,542.4 L173.8,542.3 L174.6,542.4 L175.4,541.9 L176.3,542.0 L177.1,541.2 L177.9,541.0 L179.0,532.0 L179.7,505.0 L180.1,469.5 L180.6,505.0 L181.3,532.0 L182.6,540.6 L183.6,541.6 L184.5,542.0 L185.4,543.9 L186.3,543.3 L187.3,540.3 L188.4,539.0 L189.4,536.9 L190.3,535.2 L191.3,533.7 L192.2,532.7 L193.2,531.5 L194.1,530.1 L195.0,529.6 L196.0,528.4 L196.9,528.8 L197.9,528.5 L198.8,529.3 L199.9,530.2 L200.9,530.4 L202.0,530.7 L203.0,531.7 L204.0,531.4 L205.0,533.8 L205.9,533.4 L206.7,532.0 L207.6,531.9 L208.5,531.9 L209.3,533.6 L210.2,532.4 L211.1,532.1 L211.9,533.3 L212.8,532.6 L213.6,531.6 L214.5,531.4 L215.3,531.9 L216.1,530.6 L217.0,530.5 L217.8,531.1 L218.8,530.1 L219.7,529.4 L220.7,529.3 L221.6,527.8 L222.6,528.5 L224.0,522.0 L224.9,500.0 L225.8,462.8 L226.8,500.0 L227.6,522.0 L229.0,530.2 L230.0,530.6 L231.0,530.3 L231.9,529.0 L232.8,529.7 L233.8,525.9 L234.9,522.3 L235.9,520.2 L236.7,519.5 L237.6,516.4 L238.4,515.2 L239.2,516.3 L240.1,518.5 L240.9,518.0 L241.8,519.1 L242.7,518.9 L243.5,518.5 L244.4,517.6 L245.3,519.2 L246.2,519.3 L247.2,519.1 L248.1,518.9 L249.0,520.3 L249.8,519.7 L250.7,520.0 L251.5,519.3 L252.3,519.9 L253.2,518.5 L254.0,518.9 L254.8,520.9 L255.7,521.1 L256.5,520.2 L257.3,521.9 L258.2,521.0 L259.0,522.9 L259.8,522.1 L260.7,521.1 L261.5,520.4 L262.3,519.5 L263.2,521.2 L264.0,518.9 L264.9,521.0 L265.8,521.6 L266.7,521.0 L267.6,520.3 L268.5,522.2 L269.4,522.7 L270.3,522.4 L271.1,521.6 L272.0,521.0 L272.8,520.6 L273.6,520.0 L274.5,520.7 L275.3,519.8 L276.1,519.6 L277.0,519.7 L277.8,521.3 L278.6,520.8 L279.5,521.6 L280.3,521.5 L281.2,522.9 L282.2,523.0 L283.1,521.1 L284.0,521.6 L285.0,522.0 L285.9,523.6 L286.9,524.0 L288.0,523.8 L289.0,524.3 L289.8,523.3 L290.7,521.6 L291.5,519.8 L292.5,517.6 L293.6,518.0 L294.6,516.7 L295.7,517.5 L296.7,519.9 L297.8,519.4 L298.6,521.8 L299.5,521.6 L300.3,523.0 L301.2,524.6 L302.1,522.9 L303.0,524.1 L303.8,523.6 L304.7,524.1 L305.6,522.9 L306.5,522.7 L307.3,522.7 L308.2,524.2 L309.0,523.7 L309.8,524.6 L310.7,524.6 L311.5,523.0 L312.4,524.5 L313.4,524.1 L314.4,524.6 L315.3,525.3 L316.1,526.7 L317.0,526.1 L317.8,525.8 L318.6,524.3 L319.5,524.5 L320.3,524.4 L321.3,522.9 L322.4,522.7 L323.4,521.9 L324.6,525.0 L325.7,524.0 L326.7,523.9 L327.8,524.7 L328.6,524.2 L329.5,525.4 L330.3,524.6 L331.1,524.5 L332.0,526.0 L332.8,526.4 L333.6,524.3 L334.5,525.6 L335.3,524.1 L336.1,523.9 L337.0,525.5 L337.8,523.3 L338.7,524.0 L339.7,525.9 L340.6,525.0 L342.0,518.0 L342.9,495.0 L343.6,458.5 L344.5,495.0 L345.4,512.0 L346.6,518.8 L347.6,520.2 L348.6,522.3 L349.5,522.4 L350.3,523.4 L351.2,521.8 L352.0,523.6 L352.9,522.2 L353.8,522.8 L354.7,522.0 L355.5,519.8 L356.4,519.0 L357.3,518.7 L358.1,517.7 L359.0,518.7 L359.8,517.1 L360.6,516.8 L361.5,518.8 L362.3,517.0 L363.2,518.0 L364.1,517.9 L365.0,517.9 L365.8,517.6 L366.7,519.8 L367.6,520.2 L368.5,520.5 L369.3,518.4 L370.2,518.5 L371.0,519.4 L371.8,520.1 L372.7,519.0 L373.5,519.2 L374.5,520.0 L375.6,519.9 L376.6,521.4 L377.5,520.5 L378.4,520.0 L379.2,519.2 L380.1,519.3 L381.0,520.5 L381.9,519.9 L382.8,521.0 L383.6,521.6 L384.5,522.9 L385.4,522.2 L386.4,521.0 L387.5,520.0 L388.5,519.0 L389.3,520.7 L390.2,521.3 L391.0,520.5 L391.8,521.1 L392.7,522.1 L393.5,522.7 L394.3,522.7 L395.2,521.8 L396.0,521.2 L396.8,521.6 L397.7,521.2 L398.5,522.2 L399.3,521.0 L400.2,521.0 L401.0,522.2 L401.8,521.7 L402.7,523.2 L403.5,522.8 L404.3,524.0 L405.2,522.7 L406.0,523.8 L406.8,524.5 L407.7,522.8 L408.5,524.8 L409.3,523.0 L410.2,524.4 L411.0,524.9 L411.8,524.5 L412.7,523.4 L413.5,522.9 L414.3,524.0 L415.2,525.2 L416.0,523.9 L416.8,525.5 L417.7,524.0 L418.5,525.9 L419.3,524.1 L420.2,525.0 L421.0,526.5 L421.8,526.2 L422.7,526.4 L423.5,526.2 L424.3,525.9 L425.2,525.7 L426.0,524.5 L426.8,525.0 L427.7,524.3 L428.5,525.5 L429.4,525.9 L430.4,525.4 L431.4,525.4 L432.3,528.0 L433.1,525.9 L434.0,523.7 L434.8,522.0 L435.6,523.7 L436.5,523.9 L437.3,524.8 L438.1,524.8 L439.0,524.9 L439.8,524.6 L440.6,526.2 L441.5,525.9 L442.3,526.3 L443.1,522.5 L444.0,518.8 L444.8,515.2 L445.9,512.1 L447.0,511.0 L448.1,512.3 L449.1,515.0 L450.1,520.0 L451.0,524.1 L451.9,524.8 L452.9,526.4 L453.9,525.7 L454.8,526.1 L455.7,525.6 L456.6,523.8 L457.6,522.3 L458.5,522.6 L459.3,522.9 L460.2,523.6 L461.0,523.4 L461.8,524.4 L462.6,524.8 L463.5,524.0 L464.3,525.0 L465.2,524.8 L466.1,524.0 L467.0,524.3 L467.8,524.5 L468.7,525.1 L469.6,524.9 L470.5,523.3 L471.4,524.3 L472.3,523.1 L473.2,523.3 L474.1,524.5 L475.0,525.5 L475.9,524.0 L476.8,525.6 L477.7,525.5 L478.6,523.9 L479.5,524.4 L480.3,524.4 L481.2,522.9 L482.1,523.3 L483.0,523.0 L483.8,523.6 L484.7,525.0 L485.5,525.9 L486.3,526.9 L487.2,526.8 L488.0,526.8 L488.8,526.2 L489.7,525.4 L490.5,525.5 L491.3,525.2 L492.2,522.8 L493.0,523.5 L493.8,524.4 L494.6,524.4 L495.4,525.6 L496.2,525.6 L497.0,527.7 L497.8,526.9 L498.6,529.9 L499.4,529.1 L500.2,528.2 L501.0,526.9 L501.9,527.9 L502.7,527.6 L503.5,525.2 L504.3,526.2 L505.2,526.5 L506.0,526.1 L506.9,526.3 L507.8,525.8 L508.6,526.9 L509.5,527.1 L510.4,525.8 L511.3,526.9 L512.1,526.1 L513.0,525.5 L513.8,525.8 L514.7,525.3 L515.5,527.0 L516.3,527.0 L517.2,525.0 L518.0,526.1 L518.8,525.5 L519.7,524.8 L520.5,525.1 L521.4,525.5 L522.3,527.1 L523.2,525.8 L524.1,526.7 L525.0,527.7 L525.9,527.2 L526.8,529.1 L527.7,529.0 L528.5,529.4 L529.4,527.9 L530.3,528.0 L531.1,528.5 L532.0,527.9 L532.9,528.5 L533.8,527.7 L534.6,528.6 L535.5,528.8 L536.3,528.9 L537.2,529.3 L538.0,528.4 L538.8,528.4 L539.7,529.3 L540.5,529.2 L541.3,528.8 L542.2,528.5 L543.0,528.3 L543.8,527.8 L544.7,529.4 L545.5,527.7 L546.3,529.1 L547.2,528.5 L548.0,529.4 L548.8,528.9 L549.7,529.3 L550.5,527.3 L551.4,528.2 L552.3,528.5 L553.2,528.0 L554.1,528.5 L555.0,528.3 L555.9,528.8 L556.8,527.7 L557.6,528.2 L558.5,527.8 L559.3,527.0 L560.1,526.7 L561.0,527.1 L561.8,526.0 L563.3,445.0 L564.2,269.6 L565.1,94.1 L566.3,445.0 L566.9,495.0 L568.0,514.0 L569.1,518.8 L570.3,523.6 L571.2,520.3 L572.2,517.0 L573.8,508.0 L575.0,498.0 L576.1,492.1 L577.3,486.3 L578.2,481.6 L579.1,476.9 L580.1,472.2 L581.0,467.5 L581.8,464.4 L582.7,461.2 L583.5,458.8 L584.3,457.9 L585.2,458.3 L586.0,457.0 L587.0,458.0 L588.1,458.8 L589.1,461.6 L590.2,464.6 L591.2,467.4 L592.3,468.8 L593.1,469.8 L594.0,474.0 L594.8,474.2 L595.7,475.7 L596.5,474.0 L597.4,475.4 L598.2,476.4 L599.1,473.6 L600.0,472.6 L600.9,473.9 L601.7,473.0 L602.6,471.8 L603.5,469.9 L604.4,470.5 L605.3,469.6 L606.1,468.5 L607.0,469.3 L607.9,467.2 L608.8,468.3 L609.7,469.5 L610.5,469.4 L611.4,468.9 L612.3,470.4 L613.1,470.2 L614.0,470.4 L614.8,470.5 L615.6,469.8 L616.5,470.9 L617.3,471.1 L618.2,472.8 L619.1,472.7 L620.1,473.4 L621.0,473.6 L622.0,475.0 L623.1,475.5 L624.1,475.7 L624.9,472.9 L625.8,472.1 L626.6,470.3 L627.7,470.2 L628.7,469.9 L629.8,473.8 L630.6,472.5 L631.5,472.6 L632.3,471.0 L633.1,472.9 L634.0,474.0 L634.8,472.8 L635.6,473.3 L636.5,475.2 L637.3,473.4 L638.1,476.1 L639.0,478.6 L639.8,478.3 L640.7,476.6 L641.6,477.3 L642.6,476.5 L643.5,474.4 L644.3,474.1 L645.2,476.5 L646.0,473.8 L646.8,472.7 L647.7,475.4 L648.5,473.9 L649.3,473.7 L650.2,474.7 L651.0,476.0 L651.8,474.1 L652.7,476.5 L653.5,477.2 L654.5,478.8 L655.4,477.9 L656.3,480.5 L657.3,480.2 L658.2,480.6 L659.1,478.1 L660.1,479.6 L661.0,479.0 L661.8,477.2 L662.7,477.2 L663.5,480.6 L664.3,480.0 L665.2,481.0 L666.0,478.1 L666.9,481.4 L667.8,480.1 L668.7,478.8 L669.6,479.0 L670.5,480.2 L671.4,480.1 L672.3,477.6 L673.2,480.9 L674.1,480.6 L675.1,485.3 L676.0,484.8 L677.0,487.3 L677.9,487.2 L678.8,487.3 L679.8,486.5 L680.7,486.4 L681.6,483.6 L682.6,482.3 L683.5,483.4 L684.3,482.3 L685.2,484.1 L686.0,482.4 L686.8,484.6 L687.7,485.0 L688.5,483.6 L689.3,483.6 L690.1,485.5 L691.0,486.7 L691.8,485.9 L692.7,485.3 L693.6,483.9 L694.6,485.1 L695.5,485.4 L696.3,483.5 L697.2,483.6 L698.0,487.1 L698.8,488.4 L699.7,489.8 L700.5,489.3 L701.4,487.9 L702.3,489.6 L703.2,486.5 L704.1,488.5 L705.0,485.8 L705.9,486.8 L706.8,486.9 L707.7,486.5 L708.6,485.7 L709.5,486.1 L710.3,488.5 L711.2,487.2 L712.1,487.7 L713.0,486.3 L713.9,488.3 L714.8,486.6 L715.7,487.6 L716.6,488.8 L717.5,489.0 L718.4,485.2 L719.3,488.1 L720.2,488.8 L721.1,487.1 L722.0,487.8 L722.8,489.0 L723.7,490.8 L724.6,489.2 L725.5,491.5 L726.3,489.4 L727.2,485.3 L728.0,486.7 L728.9,483.8 L729.8,485.0 L730.7,487.8 L731.6,486.1 L732.5,488.1 L733.4,487.8 L734.3,489.9 L735.1,491.1 L736.0,491.1 L736.8,487.3 L737.6,487.1 L738.5,490.0 L739.3,486.5 L740.1,487.1 L741.0,486.2 L741.8,485.9 L742.7,487.2 L743.6,491.2 L744.6,493.2 L745.5,494.5 L746.5,493.5 L747.6,491.1 L748.6,488.4 L749.7,491.4 L750.7,494.8 L751.8,495.6 L752.7,493.7 L753.6,492.7 L754.5,495.9 L755.3,494.3 L756.2,493.0 L757.1,493.8 L758.0,493.3 L758.9,493.3 L759.8,491.6 L760.6,492.9 L761.5,493.3 L762.4,492.5 L763.3,495.4 L764.2,493.7 L765.0,494.8 L765.9,495.1 L766.8,495.4 L767.7,495.3 L768.5,495.5 L769.4,493.6 L770.3,496.5 L771.1,493.3 L772.0,496.4 L772.9,496.2 L773.8,496.3 L774.6,493.2 L775.5,493.4 L776.4,496.8 L777.3,496.0 L778.2,496.1 L779.1,499.1 L780.0,495.9 L780.9,498.4 L781.8,498.6 L782.6,496.4 L783.5,496.5 L784.3,496.8 L785.1,496.5 L786.0,492.1 L786.8,493.2 L787.6,492.2 L788.5,495.8 L789.3,493.6 L790.1,494.2 L791.0,496.3 L791.8,498.4 L792.7,497.7 L793.6,497.9 L794.6,501.5 L795.5,502.5 L796.3,502.2 L797.2,499.4 L798.0,499.4 L798.8,498.1 L799.7,498.9 L800.5,497.4 L801.4,497.6 L802.3,499.4 L803.2,500.2 L804.1,498.8 L805.0,497.0 L805.9,499.3 L806.8,498.6 L807.6,501.2 L808.5,500.5 L809.3,501.4 L810.1,501.3 L811.0,501.0 L811.8,502.9 L812.7,502.2 L813.6,499.7 L814.5,498.8 L815.4,499.3 L816.3,499.5 L817.2,497.8 L818.1,498.8 L819.0,499.7 L819.8,497.6 L820.7,500.7 L821.6,500.0 L822.5,498.7 L823.4,498.5 L824.3,498.6 L825.2,498.4 L826.1,500.1 L827.0,499.0 L827.9,499.0 L828.8,497.4 L829.7,501.0 L830.6,499.2 L831.5,499.7 L832.3,499.2 L833.2,503.4 L834.1,501.9 L835.0,504.2 L835.9,504.1 L836.8,504.2 L837.7,503.5 L838.6,503.9 L839.5,503.8 L840.4,503.2 L841.3,500.4 L842.2,502.2 L843.0,502.7 L843.9,504.6 L844.8,504.0 L845.6,504.0 L846.5,504.4 L847.4,503.1 L848.3,505.7 L849.1,504.7 L850.0,504.0 L850.8,504.0 L851.7,505.9 L852.5,503.9 L853.3,502.2 L854.2,501.9 L855.0,503.9 L855.8,503.2 L856.7,504.3 L857.5,501.2 L858.4,502.3 L859.3,503.7 L860.1,501.1 L861.0,501.4 L861.9,503.3 L862.8,502.3 L863.7,501.8 L864.5,502.6 L865.4,504.2 L866.3,503.9 L867.2,501.9 L868.0,501.6 L868.9,504.5 L869.8,503.4 L870.6,501.2 L871.5,503.7 L872.4,500.1 L873.3,501.3 L874.1,502.9 L875.0,502.1 L875.8,501.0 L876.7,504.0 L877.5,503.4 L878.3,505.0 L879.2,505.6 L880.0,504.3 L880.8,505.9 L881.7,505.9 L882.5,508.1 L883.4,507.4 L884.3,506.9 L885.1,507.2 L886.0,507.8 L886.9,504.7 L887.8,504.3 L888.7,506.4 L889.5,506.3 L890.4,505.2 L891.3,504.9 L892.2,504.4 L893.0,506.0 L893.9,505.4 L894.8,504.3 L895.6,501.9 L896.5,504.9 L897.4,503.1 L898.3,501.8 L899.1,501.9 L900.0,503.3 L900.8,500.8 L901.7,501.6 L902.5,502.7 L903.3,505.3 L904.2,505.1 L905.0,506.3 L906.0,505.0 L906.9,505.4 L907.9,505.7 L908.8,506.0 L909.8,506.5 L910.7,507.4 L911.6,507.7 L912.5,505.4 L913.3,506.1 L914.2,504.6 L915.1,504.4 L916.0,505.0 L916.8,505.3 L917.7,505.2 L918.5,506.9 L919.3,503.7 L920.2,505.5 L921.0,507.0 L921.8,506.4 L922.7,506.2 L923.5,505.9 L924.3,506.6 L925.2,509.2 L926.0,509.5 L926.8,509.1 L927.7,510.5 L928.5,511.1 L929.4,510.5 L930.3,508.4 L931.2,508.4 L932.1,509.5 L933.0,507.5 L933.9,508.8 L934.8,507.4 L935.6,507.2 L936.5,508.0 L937.3,506.9 L938.1,508.2 L939.0,508.7 L939.8,507.5 L940.7,507.5 L941.6,507.4 L942.5,509.2 L943.3,507.6 L944.2,505.8 L945.1,508.1 L946.0,504.6 L946.8,506.0 L947.7,507.2 L948.5,507.3 L949.3,506.6 L950.2,508.3 L951.0,507.4 L951.8,507.9 L952.7,506.6 L953.5,508.1 L954.3,506.7 L955.2,503.8 L956.0,505.0 L956.8,501.7 L957.7,498.3 L958.5,495.0 L959.3,490.0 L960.2,485.0 L961.0,480.0 L961.8,474.6 L962.7,469.2 L963.5,462.9 L964.5,462.7 L965.4,458.8 L966.2,459.8 L967.1,461.8 L967.9,463.8 L968.9,469.2 L970.0,474.6 L971.0,480.0 L971.8,483.3 L972.7,486.7 L973.5,490.0 L974.3,488.5 L975.2,484.8 L976.0,483.0 L977.0,482.0 L978.1,479.1 L979.1,479.1 L979.9,479.6 L980.7,478.2 L981.6,477.7 L982.4,476.9 L983.2,476.9" stroke="#0000ff" stroke-width="4.7"/>
</g>
<g fill="#000000">
<rect x="85" y="2.9" width="2" height="744.4"/>
<rect x="85" y="2.9" width="899.9" height="1.7"/>
<rect x="982.5" y="2.9" width="2.4" height="744.4"/>
<rect x="85" y="730.7" width="899.9" height="2.1"/>
<rect x="264.3" y="731" width="2" height="16.2"/>
<rect x="443.7" y="731" width="2" height="16.2"/>
<rect x="623.2" y="731" width="2" height="16.2"/>
<rect x="802.5" y="731" width="2" height="16.2"/>
</g>
<g fill="#3a3a3a">
<rect x="174.8" y="731" width="1.7" height="9.7"/>
<rect x="354.4" y="731" width="1.7" height="9.7"/>
<rect x="533.8" y="731" width="1.7" height="9.7"/>
<rect x="713.1" y="731" width="1.7" height="9.7"/>
<rect x="892.8" y="731" width="1.7" height="9.7"/>
</g>
<rect x="108.85" y="326.0" width="1.3" height="97.2" fill="#6a6a6a"/>
<path d="M104.5,422.2 L114.5,422.2 L109.5,440.2 Z" fill="#000"/>
<rect x="169.90" y="322.0" width="2.6" height="99.3" fill="#b0b0b0"/>
<path d="M166.2,420.3 L176.2,420.3 L171.2,437.0 Z" fill="#000"/>
<rect x="229.10" y="322.0" width="2.0" height="99.3" fill="#9a9a9a"/>
<path d="M225.1,420.3 L235.1,420.3 L230.1,437.0 Z" fill="#000"/>
<rect x="293.20" y="322.6" width="2.6" height="98.7" fill="#b0b0b0"/>
<path d="M289.5,420.3 L299.5,420.3 L294.5,436.7 Z" fill="#000"/>
<rect x="338.15" y="299.0" width="1.3" height="98.8" fill="#6a6a6a"/>
<path d="M333.8,396.8 L343.8,396.8 L338.8,414.2 Z" fill="#000"/>
<rect x="444.55" y="306.5" width="1.3" height="99.5" fill="#6a6a6a"/>
<path d="M440.2,405.0 L450.2,405.0 L445.2,421.6 Z" fill="#000"/>
<rect x="965.40" y="242.6" width="3.8" height="97.5" fill="#c8c8c8"/>
<path d="M962.3,339.1 L972.3,339.1 L967.3,357.7 Z" fill="#000"/>
<text transform="translate(125.0,318.5) rotate(-90)" font-size="37" font-family="Liberation Serif, Times New Roman, serif" stroke="#ffffff" stroke-width="0.5" fill="#000" >O 2s 1/2</text>
<text transform="translate(183.7,307.6) rotate(-90)" font-size="38" font-family="Liberation Serif, Times New Roman, serif" stroke="#ffffff" stroke-width="0.5" fill="#000" >Si 2p</text>
<text transform="translate(242.3,307.6) rotate(-90)" font-size="38" font-family="Liberation Serif, Times New Roman, serif" stroke="#ffffff" stroke-width="0.5" fill="#000" >Si&#160; 2s</text>
<text transform="translate(311.0,307.7) rotate(-90)" font-size="38" font-family="Liberation Serif, Times New Roman, serif" stroke="#ffffff" stroke-width="0.5" fill="#000" >S 1s</text>
<text transform="translate(352.5,286.5) rotate(-90)" font-size="38" font-family="Liberation Serif, Times New Roman, serif" stroke="#ffffff" stroke-width="0.5" fill="#000" >C 1s</text>
<text transform="translate(461.0,287.5) rotate(-90)" font-size="38" font-family="Liberation Serif, Times New Roman, serif" stroke="#ffffff" stroke-width="0.5" fill="#000" >N 1s</text>
<text transform="translate(578.2,81.0) rotate(-90)" font-size="38" font-family="Liberation Serif, Times New Roman, serif" stroke="#ffffff" stroke-width="0.5" fill="#000" >O 1s</text>
<text transform="translate(981.6,229.4) rotate(-90)" font-size="38" font-family="Liberation Serif, Times New Roman, serif" stroke="#ffffff" stroke-width="0.5" fill="#000" word-spacing="-2.2">O a</text>
<text x="597.6" y="440.8" font-size="36" font-family="Liberation Serif, Times New Roman, serif" stroke="#ffffff" stroke-width="0.5" fill="#000" textLength="292" lengthAdjust="spacingAndGlyphs">biotinylated surface</text>
<text x="596.2" y="598.3" font-size="36" font-family="Liberation Serif, Times New Roman, serif" stroke="#ffffff" stroke-width="0.5" fill="#000" textLength="252" lengthAdjust="spacingAndGlyphs">aminated surface</text>
<text x="598.8" y="696.5" font-size="36" font-family="Liberation Serif, Times New Roman, serif" stroke="#ffffff" stroke-width="0.5" fill="#000" textLength="328" lengthAdjust="spacingAndGlyphs">2 µm SiO<tspan font-size="20.5" stroke-width="0.1" dy="14.7">2</tspan><tspan dy="-14.7"> on (100) Si</tspan></text>
<text x="86.0" y="787.6" font-size="39.5" text-anchor="middle" font-family="Liberation Serif, Times New Roman, serif" stroke="#ffffff" stroke-width="0.5" fill="#000">0</text>
<text x="265.3" y="787.6" font-size="39.5" text-anchor="middle" font-family="Liberation Serif, Times New Roman, serif" stroke="#ffffff" stroke-width="0.5" fill="#000">200</text>
<text x="444.7" y="787.6" font-size="39.5" text-anchor="middle" font-family="Liberation Serif, Times New Roman, serif" stroke="#ffffff" stroke-width="0.5" fill="#000">400</text>
<text x="624.2" y="787.6" font-size="39.5" text-anchor="middle" font-family="Liberation Serif, Times New Roman, serif" stroke="#ffffff" stroke-width="0.5" fill="#000">600</text>
<text x="803.5" y="787.6" font-size="39.5" text-anchor="middle" font-family="Liberation Serif, Times New Roman, serif" stroke="#ffffff" stroke-width="0.5" fill="#000">800</text>
<text x="983.0" y="787.6" font-size="39.5" text-anchor="middle" font-family="Liberation Serif, Times New Roman, serif" stroke="#ffffff" stroke-width="0.5" fill="#000">1000</text>
<text x="300.6" y="866" font-size="55" font-family="Liberation Serif, Times New Roman, serif" stroke="#ffffff" stroke-width="0.35" fill="#000" textLength="469" lengthAdjust="spacingAndGlyphs">Binding Energy (eV)</text>
<text transform="translate(41.5,560.5) rotate(-90)" font-size="57" font-family="Liberation Serif, Times New Roman, serif" stroke="#ffffff" stroke-width="0.35" fill="#000" textLength="325.5" lengthAdjust="spacingAndGlyphs">Intensity (a.u.)</text>
</g>
</svg>
</body></html>
